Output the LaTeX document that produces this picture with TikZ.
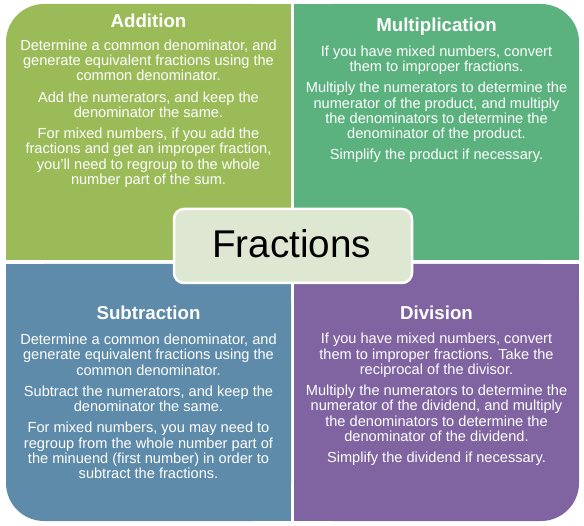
\documentclass[tikz,border=0pt]{standalone}
\usepackage{fontspec}
\setmainfont{Liberation Sans}
\definecolor{addc}{RGB}{155,187,89}
\definecolor{mulc}{RGB}{91,178,126}
\definecolor{subc}{RGB}{94,139,170}
\definecolor{divc}{RGB}{128,100,162}
\definecolor{cenc}{RGB}{222,231,210}
\tikzset{
  body/.style={text=white, font=\fontsize{14.6}{15.3}\selectfont, align=center, inner sep=0pt, anchor=north},
  ttl/.style={text=white, font=\fontsize{18.7}{20}\selectfont\bfseries, inner sep=0pt, anchor=base},
  cbox/.style={fill=cenc, draw=white, line width=2.5pt, rounded corners=10pt, minimum width=238pt, minimum height=74pt, inner sep=0pt}
}
\begin{document}
\begin{tikzpicture}[x=1pt,y=-1pt]
\useasboundingbox (0,0) rectangle (584,526);
% quadrants
\fill[addc, rounded corners=38pt] (6,4) rectangle (291,260);
\fill[addc] (60,4) rectangle (291,260);
\fill[addc] (6,60) rectangle (291,260);
\fill[mulc, rounded corners=38pt] (294,4) rectangle (579,260);
\fill[mulc] (294,4) rectangle (520,260);
\fill[mulc] (294,60) rectangle (579,260);
\fill[subc, rounded corners=38pt] (6,264) rectangle (291,521);
\fill[subc] (6,264) rectangle (291,460);
\fill[subc] (60,264) rectangle (291,521);
\fill[divc, rounded corners=38pt] (294,264) rectangle (579,521);
\fill[divc] (294,264) rectangle (579,460);
\fill[divc] (294,264) rectangle (520,521);
% titles
\node[ttl] (tadd) at (148.5,27.4) {Addition};
\node[ttl] (tmul) at (436.5,31.7) {Multiplication};
\node[ttl] (tsub) at (148.5,320) {Subtraction};
\node[ttl] (tdiv) at (436.5,320) {Division};
% bodies
\node[body] (badd) at (148.5,39.6) {Determine a common denominator, and\\generate equivalent fractions using the\\common denominator.\\[5.8pt]Add the numerators, and keep the\\denominator the same.\\[5.8pt]For mixed numbers, if you add the\\fractions and get an improper fraction,\\you'll need to regroup to the whole\\number part of the sum.};
\node[body] (bmul) at (436.5,45.6) {If you have mixed numbers, convert\\them to improper fractions.\\[5.8pt]Multiply the numerators to determine the\\numerator of the product, and multiply\\the denominators to determine the\\denominator of the product.\\[5.8pt]Simplify the product if necessary.};
\node[body] (bsub) at (148.5,333.9) {Determine a common denominator, and\\generate equivalent fractions using the\\common denominator.\\[5.8pt]Subtract the numerators, and keep the\\denominator the same.\\[5.8pt]For mixed numbers, you may need to\\regroup from the whole number part of\\the minuend (first number) in order to\\subtract the fractions.};
\node[body] (bdiv) at (436.5,333.2) {If you have mixed numbers, convert\\them to improper fractions. Take the\\reciprocal of the divisor.\\[5.8pt]Multiply the numerators to determine the\\numerator of the dividend, and multiply\\the denominators to determine the\\denominator of the dividend.\\[5.8pt]Simplify the dividend if necessary.};
% centre
\node[cbox] (cen) at (293,246) {};
\node[font=\fontsize{38.7}{40}\selectfont, text=black, inner sep=0pt, anchor=base] (ctext) at (291.7,258) {Fractions};
\end{tikzpicture}
\end{document}
